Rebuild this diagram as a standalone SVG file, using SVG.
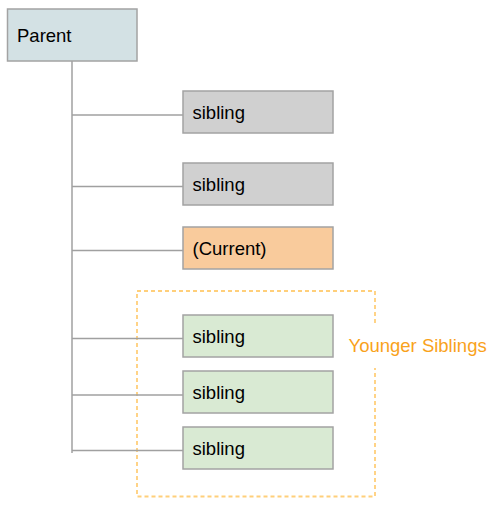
<svg xmlns="http://www.w3.org/2000/svg" width="498" height="506" viewBox="0 0 498 506">
<style>
.box{stroke:#a3a3a3;stroke-width:1.5}
.t{font-family:"Liberation Sans",Arial,sans-serif;font-size:18.5px;fill:#000}
.conn line{stroke:#a0a0a0;stroke-width:1.5}
</style>
<rect width="498" height="506" fill="#fff"/>
<g id="group-younger">
<path d="M375,323 V291 H137 V496.5 H375 V368" fill="none" stroke="#ffcf7a" stroke-width="1.8" stroke-dasharray="4,3"/>
<text x="348.5" y="352" style="font-family:'Liberation Sans',Arial,sans-serif;font-size:18.5px;fill:#f9a21b">Younger Siblings</text>
</g>
<g class="conn" id="connectors">
<line x1="72" y1="61" x2="72" y2="453"/>
<line x1="72" y1="115" x2="183" y2="115"/>
<line x1="72" y1="186.5" x2="183" y2="186.5"/>
<line x1="72" y1="250.5" x2="183" y2="250.5"/>
<line x1="72" y1="338.5" x2="183" y2="338.5"/>
<line x1="72" y1="395" x2="183" y2="395"/>
<line x1="72" y1="450.5" x2="183" y2="450.5"/>
</g>
<g id="parent"><rect class="box" x="7.5" y="9" width="129.5" height="52" fill="#d3e1e4"/><text class="t" x="17" y="42">Parent</text></g>
<g id="sibling1"><rect class="box" x="183" y="91" width="150" height="42" fill="#d0d0d0"/><text class="t" x="192.5" y="119">sibling</text></g>
<g id="sibling2"><rect class="box" x="183" y="163" width="150" height="42" fill="#d0d0d0"/><text class="t" x="192.5" y="191">sibling</text></g>
<g id="current"><rect class="box" x="183" y="227" width="150" height="42" fill="#f9cb9c"/><text class="t" x="192.5" y="255">(Current)</text></g>
<g id="sibling3"><rect class="box" x="183" y="315" width="150" height="42" fill="#d9ead3"/><text class="t" x="192.5" y="343">sibling</text></g>
<g id="sibling4"><rect class="box" x="183" y="371" width="150" height="42" fill="#d9ead3"/><text class="t" x="192.5" y="399">sibling</text></g>
<g id="sibling5"><rect class="box" x="183" y="427" width="150" height="42" fill="#d9ead3"/><text class="t" x="192.5" y="455">sibling</text></g>
</svg>
